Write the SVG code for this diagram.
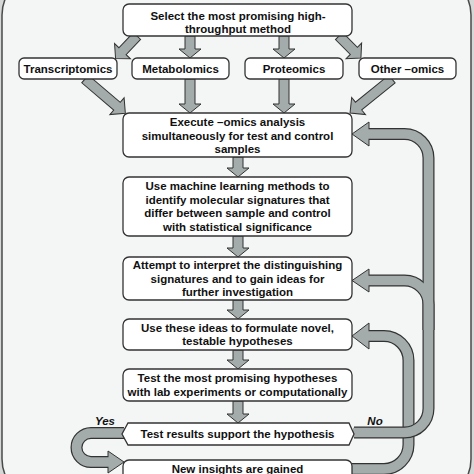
<svg xmlns="http://www.w3.org/2000/svg" width="474" height="474" viewBox="0 0 474 474">
<defs>
<style>
.box{fill:#fff;stroke:#333;stroke-width:1.3}
.t{font-family:"Liberation Sans",Arial,sans-serif;font-weight:bold;font-size:11.5px;fill:#111;text-anchor:middle}
.lbl{font-family:"Liberation Sans",Arial,sans-serif;font-weight:bold;font-style:italic;font-size:11.5px;fill:#111;text-anchor:middle}
.ar{fill:#a3acab;stroke:#333;stroke-width:1;stroke-linejoin:miter}
.bo{fill:none;stroke:#333;stroke-width:12}
.bi{fill:none;stroke:#a3acab;stroke-width:9.6}
</style>
</defs>
<rect x="0" y="0" width="474" height="474" fill="#d6d7d7"/>
<rect x="2" y="-25" width="469" height="524" rx="40" fill="#f4f5f5" stroke="#4a4a4a" stroke-width="1.5"/>

<g id="connectors">
  <!-- straight vertical arrows -->
  <path class="ar" d="M185,36 H195 V49 H201 L190,58 L179,49 H185 Z"/>
  <path class="ar" d="M279,36 H289 V49 H295 L284,58 L273,49 H279 Z"/>
  <path class="ar" d="M185,79 H195 V104 H201 L190,113 L179,104 H185 Z"/>
  <path class="ar" d="M279,79 H289 V104 H295 L284,113 L273,104 H279 Z"/>
  <path class="ar" d="M233,157 H243 V168 H249 L238,177 L227,168 H233 Z"/>
  <path class="ar" d="M233,236 H243 V248 H249 L238,257 L227,248 H233 Z"/>
  <path class="ar" d="M233,300 H243 V310 H249 L238,319 L227,310 H233 Z"/>
  <path class="ar" d="M233,350 H243 V360 H249 L238,369 L227,360 H233 Z"/>
  <path class="ar" d="M233,401 H243 V414 H249 L238,423 L227,414 H233 Z"/>
  <!-- diagonal arrows -->
  <path class="ar" transform="translate(137,36) rotate(133.7)" d="M0,-5 H21 V-11 L31,0 L21,11 V5 H0 Z"/>
  <path class="ar" transform="translate(339,36) rotate(45)" d="M0,-5 H21 V-11 L31,0 L21,11 V5 H0 Z"/>
  <path class="ar" transform="translate(85,79) rotate(40.4)" d="M0,-5 H42 V-11 L53,0 L42,11 V5 H0 Z"/>
  <path class="ar" transform="translate(392,79) rotate(141)" d="M0,-5 H43 V-11 L54,0 L43,11 V5 H0 Z"/>

  <!-- inner loop: New insights -> Use these ideas -->
  <path class="bo" d="M352,469 H384 A24.5,24.5 0 0 0 408.5,444.5 V360.5 A24.5,24.5 0 0 0 384,336 H369"/>
  <path class="ar" d="M369,323 L352,336 L369,349 Z"/>
  <path class="bi" d="M351,469 H384 A24.5,24.5 0 0 0 408.5,444.5 V360.5 A24.5,24.5 0 0 0 384,336 H366"/>

  <!-- outer loop: No -> Execute, branch -> Attempt -->
  <path class="bo" d="M354,432.5 H404.5 A24,24 0 0 0 428.5,408.5 V158 A24,24 0 0 0 404.5,134 H369"/>
  <path class="bo" d="M369,280.5 H404.5 A24,24 0 0 1 428.5,304.5 V330"/>
  <path class="ar" d="M369,122 L352,134 L369,146 Z"/>
  <path class="ar" d="M369,269 L352,280.5 L369,292 Z"/>
  <path class="bi" d="M353,432.5 H404.5 A24,24 0 0 0 428.5,408.5 V158 A24,24 0 0 0 404.5,134 H366"/>
  <path class="bi" d="M366,280.5 H404.5 A24,24 0 0 1 428.5,304.5 V330"/>

  <!-- Yes loop -->
  <path class="bo" d="M124,433 H91 A14.5,14.5 0 0 0 91,462 H108"/>
  <path class="ar" d="M108,451 L124,462 L108,473 Z"/>
  <path class="bi" d="M125,433 H91 A14.5,14.5 0 0 0 91,462 H111"/>

  <text class="lbl" x="105" y="425">Yes</text>
  <text class="lbl" x="375" y="425">No</text>
</g>

<g id="n-select">
  <rect class="box" x="123" y="4" width="229" height="32" rx="6"/>
  <text class="t" x="238" y="19.5">Select the most promising high-</text>
  <text class="t" x="238" y="32.5">throughput method</text>
</g>
<g id="n-transcriptomics">
  <rect class="box" x="19" y="58" width="98" height="21" rx="5"/>
  <text class="t" x="68" y="72.5">Transcriptomics</text>
</g>
<g id="n-metabolomics">
  <rect class="box" x="132" y="58" width="97" height="21" rx="5"/>
  <text class="t" x="180.5" y="72.5">Metabolomics</text>
</g>
<g id="n-proteomics">
  <rect class="box" x="245" y="58" width="98" height="21" rx="5"/>
  <text class="t" x="294" y="72.5">Proteomics</text>
</g>
<g id="n-other">
  <rect class="box" x="359" y="58" width="97" height="21" rx="5"/>
  <text class="t" x="407.5" y="72.5">Other –omics</text>
</g>
<g id="n-execute">
  <rect class="box" x="123" y="113" width="229" height="44" rx="6"/>
  <text class="t" x="237.5" y="126">Execute –omics analysis</text>
  <text class="t" x="237.5" y="139.5">simultaneously for test and control</text>
  <text class="t" x="237.5" y="153">samples</text>
</g>
<g id="n-ml">
  <rect class="box" x="123" y="177" width="229" height="59" rx="6"/>
  <text class="t" x="237.5" y="190">Use machine learning methods to</text>
  <text class="t" x="237.5" y="203.5">identify molecular signatures that</text>
  <text class="t" x="237.5" y="217">differ between sample and control</text>
  <text class="t" x="237.5" y="230.5">with statistical significance</text>
</g>
<g id="n-attempt">
  <rect class="box" x="123" y="257" width="229" height="43" rx="6"/>
  <text class="t" x="237.5" y="269">Attempt to interpret the distinguishing</text>
  <text class="t" x="237.5" y="282.5">signatures and to gain ideas for</text>
  <text class="t" x="237.5" y="296">further investigation</text>
</g>
<g id="n-use">
  <rect class="box" x="123" y="319" width="229" height="31" rx="6"/>
  <text class="t" x="237.5" y="331.5">Use these ideas to formulate novel,</text>
  <text class="t" x="237.5" y="345">testable hypotheses</text>
</g>
<g id="n-test">
  <rect class="box" x="123" y="369" width="229" height="32" rx="6"/>
  <text class="t" x="237.5" y="382">Test the most promising hypotheses</text>
  <text class="t" x="237.5" y="395.5">with lab experiments or computationally</text>
</g>
<g id="n-results">
  <path class="box" d="M128,423 H349 L354,434 L349,445 H128 L122,434 Z"/>
  <text class="t" x="237.5" y="438">Test results support the hypothesis</text>
</g>
<g id="n-insights">
  <rect class="box" x="123" y="460" width="229" height="30" rx="6"/>
  <text class="t" x="237.5" y="473">New insights are gained</text>
</g>
</svg>
